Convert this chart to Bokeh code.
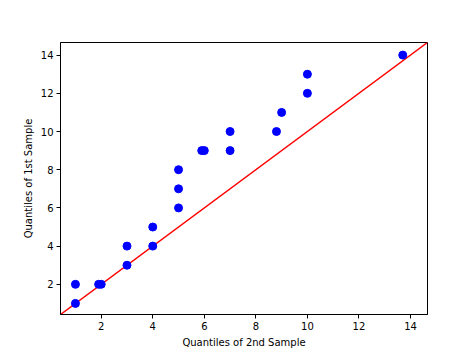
from bokeh.plotting import figure
from bokeh.models import Range1d, FixedTicker
from bokeh.embed import file_html
from bokeh.resources import INLINE

# Quantile pairs (2nd sample on x, 1st sample on y)
q2 = [1, 1, 1.9, 2, 3, 3, 4, 4, 5, 5, 5, 5.9, 6, 7, 7, 8.8, 9, 10, 10, 13.7]
q1 = [1, 2, 2, 2, 3, 4, 4, 5, 6, 7, 8, 9, 9, 9, 10, 10, 11, 12, 13, 14]
lo, hi = 0.42, 14.66
ticks = [2, 4, 6, 8, 10, 12, 14]

p = figure(width=474, height=354, output_backend="svg", toolbar_location=None,
           x_range=Range1d(lo, hi), y_range=Range1d(lo, hi),
           min_border_left=60, min_border_right=47, min_border_top=42, min_border_bottom=40)
p.background_fill_color = "white"
p.border_fill_color = "white"
p.outline_line_color = "black"
p.outline_line_width = 1
p.grid.visible = False

p.line([lo, hi], [lo, hi], line_color="#ff0000", line_width=1.5)
p.scatter(q2, q1, size=8, fill_color="#0000ff", line_color="#0000ff")

for ax in (p.xaxis[0], p.yaxis[0]):
    ax.ticker = FixedTicker(ticks=ticks)
    ax.minor_tick_line_color = None
    ax.major_tick_out = 4
    ax.major_tick_in = 0
    ax.major_label_text_font = "DejaVu Sans"
    ax.major_label_text_font_size = "10px"
    ax.major_label_text_color = "black"
    ax.axis_label_text_font = "DejaVu Sans"
    ax.axis_label_text_font_size = "10px"
    ax.axis_label_text_font_style = "normal"
    ax.axis_label_text_color = "black"
    ax.axis_line_color = "black"
    ax.major_label_standoff = 3
    ax.axis_label_standoff = 4

p.xaxis.axis_label = "Quantiles of 2nd Sample"
p.yaxis.axis_label = "Quantiles of 1st Sample"

open("out.html", "w").write(file_html(p, INLINE))
